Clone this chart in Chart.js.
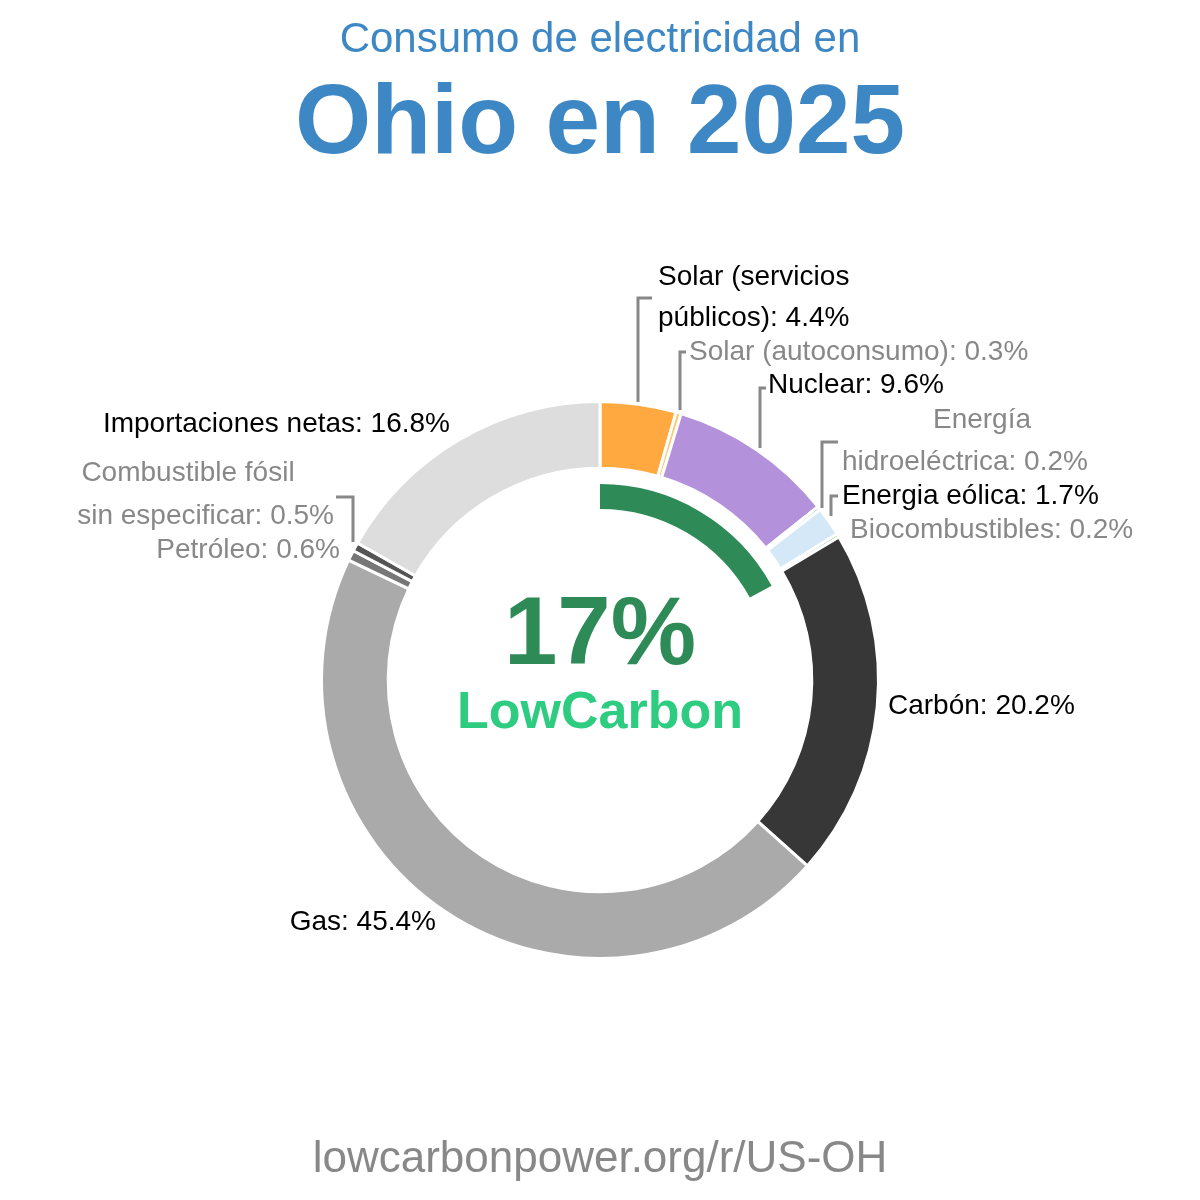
<!DOCTYPE html>
<html>
<head>
<meta charset="utf-8">
<script src="https://cdn.jsdelivr.net/npm/chart.js@4/dist/chart.umd.min.js"></script>
<style>
  html, body { margin: 0; padding: 0; background: #fff; }
  canvas { display: block; }
</style>
</head>
<body>
<canvas id="c" width="1200" height="1200"></canvas>
<script>
const categories = ['Solar (servicios públicos)', 'Solar (autoconsumo)', 'Nuclear', 'Energía hidroeléctrica',
  'Energia eólica', 'Biocombustibles', 'Carbón', 'Gas', 'Petróleo', 'Combustible fósil sin especificar', 'Importaciones netas'];
const shares = [4.4, 0.3, 9.6, 0.2, 1.7, 0.2, 20.2, 45.4, 0.6, 0.5, 16.8];
const colors = ['#FFA940', '#FFC870', '#B391DB', '#4F9BD9', '#D4E8F7', '#6BB36B', '#373737', '#AAAAAA', '#777777', '#555555', '#DDDDDD'];
const lowCarbonShare = 17;

// label texts, one entry per line
const labels = [
  { lines: ['Solar (servicios', 'públicos): 4.4%'], x: 658, y: [277, 318], align: 'left', color: '#000', lead: [[638, 402], [638, 298], [652, 298]] },
  { lines: ['Solar (autoconsumo): 0.3%'], x: 689, y: [352], align: 'left', color: '#888', lead: [[680, 410], [680, 352], [686, 352]] },
  { lines: ['Nuclear: 9.6%'], x: 768, y: [385], align: 'left', color: '#000', lead: [[760, 448], [760, 388], [766, 388]] },
  { lines: ['Energía'], x: 982, y: [420], align: 'center', color: '#888' },
  { lines: ['hidroeléctrica: 0.2%'], x: 842, y: [462], align: 'left', color: '#888', lead: [[822, 508], [822, 442], [838, 442]] },
  { lines: ['Energia eólica: 1.7%'], x: 842, y: [496], align: 'left', color: '#000', lead: [[831, 516], [831, 496], [838, 496]] },
  { lines: ['Biocombustibles: 0.2%'], x: 850, y: [530], align: 'left', color: '#888' },
  { lines: ['Carbón: 20.2%'], x: 888, y: [706], align: 'left', color: '#000' },
  { lines: ['Gas: 45.4%'], x: 436, y: [922], align: 'right', color: '#000' },
  { lines: ['Petróleo: 0.6%'], x: 340, y: [550], align: 'right', color: '#888' },
  { lines: ['Combustible fósil'], x: 188, y: [473], align: 'center', color: '#888' },
  { lines: ['sin especificar: 0.5%'], x: 334, y: [516], align: 'right', color: '#888', lead: [[353, 542], [353, 497], [336, 497]] },
  { lines: ['Importaciones netas: 16.8%'], x: 450, y: [424], align: 'right', color: '#000' },
];

const font = '"Liberation Sans", Arial, sans-serif';

const decor = {
  id: 'decor',
  afterDraw(chart) {
    const ctx = chart.ctx;
    ctx.save();
    ctx.textBaseline = 'middle';
    ctx.textAlign = 'center';
    ctx.fillStyle = '#3D87C4';
    ctx.font = '42px ' + font;
    ctx.fillText('Consumo de electricidad en', 600, 40);
    ctx.font = 'bold 98px ' + font;
    ctx.fillText('Ohio en 2025', 600, 126);
    ctx.fillStyle = '#888';
    ctx.font = '44px ' + font;
    ctx.fillText('lowcarbonpower.org/r/US-OH', 600, 1160);

    ctx.fillStyle = '#2E8B57';
    ctx.font = 'bold 96px ' + font;
    ctx.fillText(lowCarbonShare + '%', 600, 638);
    ctx.fillStyle = '#2ECC80';
    ctx.font = 'bold 52px ' + font;
    ctx.fillText('LowCarbon', 600, 714);

    ctx.strokeStyle = '#888';
    ctx.lineWidth = 3;
    ctx.font = '28px ' + font;
    labels.forEach(l => {
      if (l.lead) {
        ctx.beginPath();
        l.lead.forEach((p, i) => i ? ctx.lineTo(p[0], p[1]) : ctx.moveTo(p[0], p[1]));
        ctx.stroke();
      }
      ctx.fillStyle = l.color;
      ctx.textAlign = l.align;
      l.lines.forEach((t, i) => ctx.fillText(t, l.x, l.y[i]));
    });
    ctx.restore();
  }
};

new Chart(document.getElementById('c'), {
  type: 'doughnut',
  data: {
    labels: categories,
    datasets: [
      { data: shares, backgroundColor: colors, borderColor: '#fff', borderWidth: 3, weight: 67 },
      { data: [1], backgroundColor: 'rgba(0,0,0,0)', borderWidth: 0, weight: 16 },
      { data: [lowCarbonShare, 100 - lowCarbonShare], backgroundColor: ['#2E8B57', 'rgba(0,0,0,0)'], borderWidth: 0, weight: 25 },
    ],
  },
  options: {
    responsive: false,
    devicePixelRatio: 1,
    animation: false,
    cutout: '61.4%',
    layout: { padding: { top: 400, bottom: 240, left: 320, right: 320 } },
    plugins: { legend: { display: false }, tooltip: { enabled: false } },
  },
  plugins: [decor],
});
</script>
</body>
</html>
